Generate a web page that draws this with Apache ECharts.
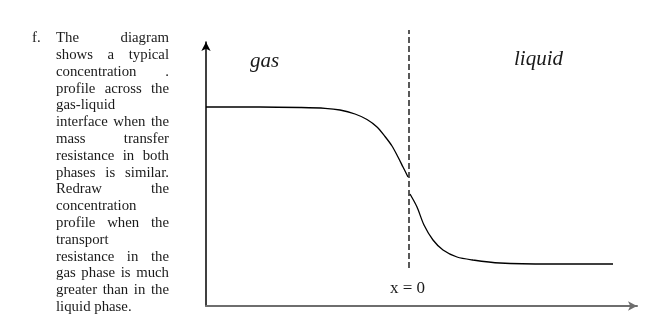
<!DOCTYPE html>
<html>
<head>
<meta charset="utf-8">
<script src="https://cdn.jsdelivr.net/npm/echarts@6/dist/echarts.min.js"></script>
<style>
html,body{margin:0;padding:0;background:#fff;}
#chart{width:663px;height:335px;}
</style>
</head>
<body>
<div id="chart"></div>
<script>
// Concentration profile, gas side (x < 0) and liquid side (x > 0); interface at x = 0
var gasX = [-2.03, -1.49, -1.09, -0.84, -0.69, -0.54, -0.42, -0.32, -0.24, -0.17, -0.11, -0.06, -0.01];
var gasY = [1.99, 1.99, 1.985, 1.977, 1.96, 1.92, 1.865, 1.79, 1.695, 1.60, 1.49, 1.39, 1.29];
var liqX = [0.01, 0.08, 0.15, 0.24, 0.34, 0.48, 0.64, 0.91, 1.41, 2.04];
var liqY = [1.12, 0.99, 0.81, 0.66, 0.56, 0.49, 0.46, 0.43, 0.42, 0.42];
var interfaceX = [0, 0];
var interfaceY = [0.38, 2.76];
var phaseLabels = ['gas', 'liquid'];
var interfaceLabel = 'x = 0';
var questionLines = [
  ['The diagram', true],
  ['shows a typical', true],
  ['concentration .', true],
  ['profile across the', true],
  ['gas-liquid', false],
  ['interface when the', true],
  ['mass transfer', true],
  ['resistance in both', true],
  ['phases is similar.', true],
  ['Redraw the', true],
  ['concentration', false],
  ['profile when the', true],
  ['transport', false],
  ['resistance in the', true],
  ['gas phase is much', true],
  ['greater than in the', true],
  ['liquid phase.', false]
];
var itemMark = 'f.';

function zip(a, b) { return a.map(function (v, i) { return [v, b[i]]; }); }

var FONT = "'Liberation Serif', 'Times New Roman', serif";
var fs = 14.8;
var cv = document.createElement('canvas').getContext('2d');
cv.font = fs + "px 'Liberation Serif'";

var graphics = [];
var colL = 56, colR = 169, base0 = 42.7, lh = 16.81;
graphics.push({type: 'text', left: 32, top: base0 - 12, style: {text: itemMark, font: fs + 'px ' + FONT, fill: '#1a1a1a'}});
questionLines.forEach(function (ln, i) {
  var top = base0 + i * lh - 12;
  var words = ln[0].split(' ');
  if (!ln[1] || words.length < 2) {
    graphics.push({type: 'text', left: colL, top: top, style: {text: ln[0], font: fs + 'px ' + FONT, fill: '#1a1a1a'}});
    return;
  }
  var widths = words.map(function (w) { return cv.measureText(w).width; });
  var sum = widths.reduce(function (a, b) { return a + b; }, 0);
  var gap = (colR - colL - sum) / (words.length - 1);
  var x = colL;
  words.forEach(function (w, k) {
    graphics.push({type: 'text', left: x, top: top, style: {text: w, font: fs + 'px ' + FONT, fill: '#1a1a1a'}});
    x += widths[k] + gap;
  });
});
graphics.push({type: 'text', left: 250, top: 51, style: {text: phaseLabels[0], font: 'italic 21px ' + FONT, fill: '#1a1a1a'}});
graphics.push({type: 'text', left: 514, top: 49, style: {text: phaseLabels[1], font: 'italic 21px ' + FONT, fill: '#1a1a1a'}});
graphics.push({type: 'text', left: 390, top: 280, style: {text: interfaceLabel, font: '17px ' + FONT, fill: '#1a1a1a'}});

var chart = echarts.init(document.getElementById('chart'), null, {renderer: 'canvas'});
chart.setOption({
  animation: false,
  backgroundColor: '#fff',
  grid: {left: 206, right: 26, top: 42, bottom: 29},
  xAxis: {
    type: 'value', min: -2.03, max: 2.28,
    axisLine: {show: true, onZero: false, symbol: ['none', 'arrow'], symbolSize: [7, 9],
      lineStyle: {color: '#6e6e6e', width: 2}},
    axisTick: {show: false}, axisLabel: {show: false}, splitLine: {show: false}
  },
  yAxis: {
    type: 'value', min: 0, max: 2.64,
    axisLine: {show: true, onZero: false, symbol: ['none', 'arrow'], symbolSize: [7, 9],
      lineStyle: {color: '#000', width: 1.5}},
    axisTick: {show: false}, axisLabel: {show: false}, splitLine: {show: false}
  },
  series: [
    {type: 'line', data: zip(gasX, gasY), smooth: 0.3, showSymbol: false,
      lineStyle: {color: '#000', width: 1.3}},
    {type: 'line', data: zip(liqX, liqY), smooth: 0.3, showSymbol: false,
      lineStyle: {color: '#000', width: 1.3}},
    {type: 'line', data: zip(interfaceX, interfaceY), showSymbol: false, clip: false,
      lineStyle: {color: '#000', width: 1.3, type: [6, 3]}}
  ],
  graphic: graphics
});
</script>
</body>
</html>
